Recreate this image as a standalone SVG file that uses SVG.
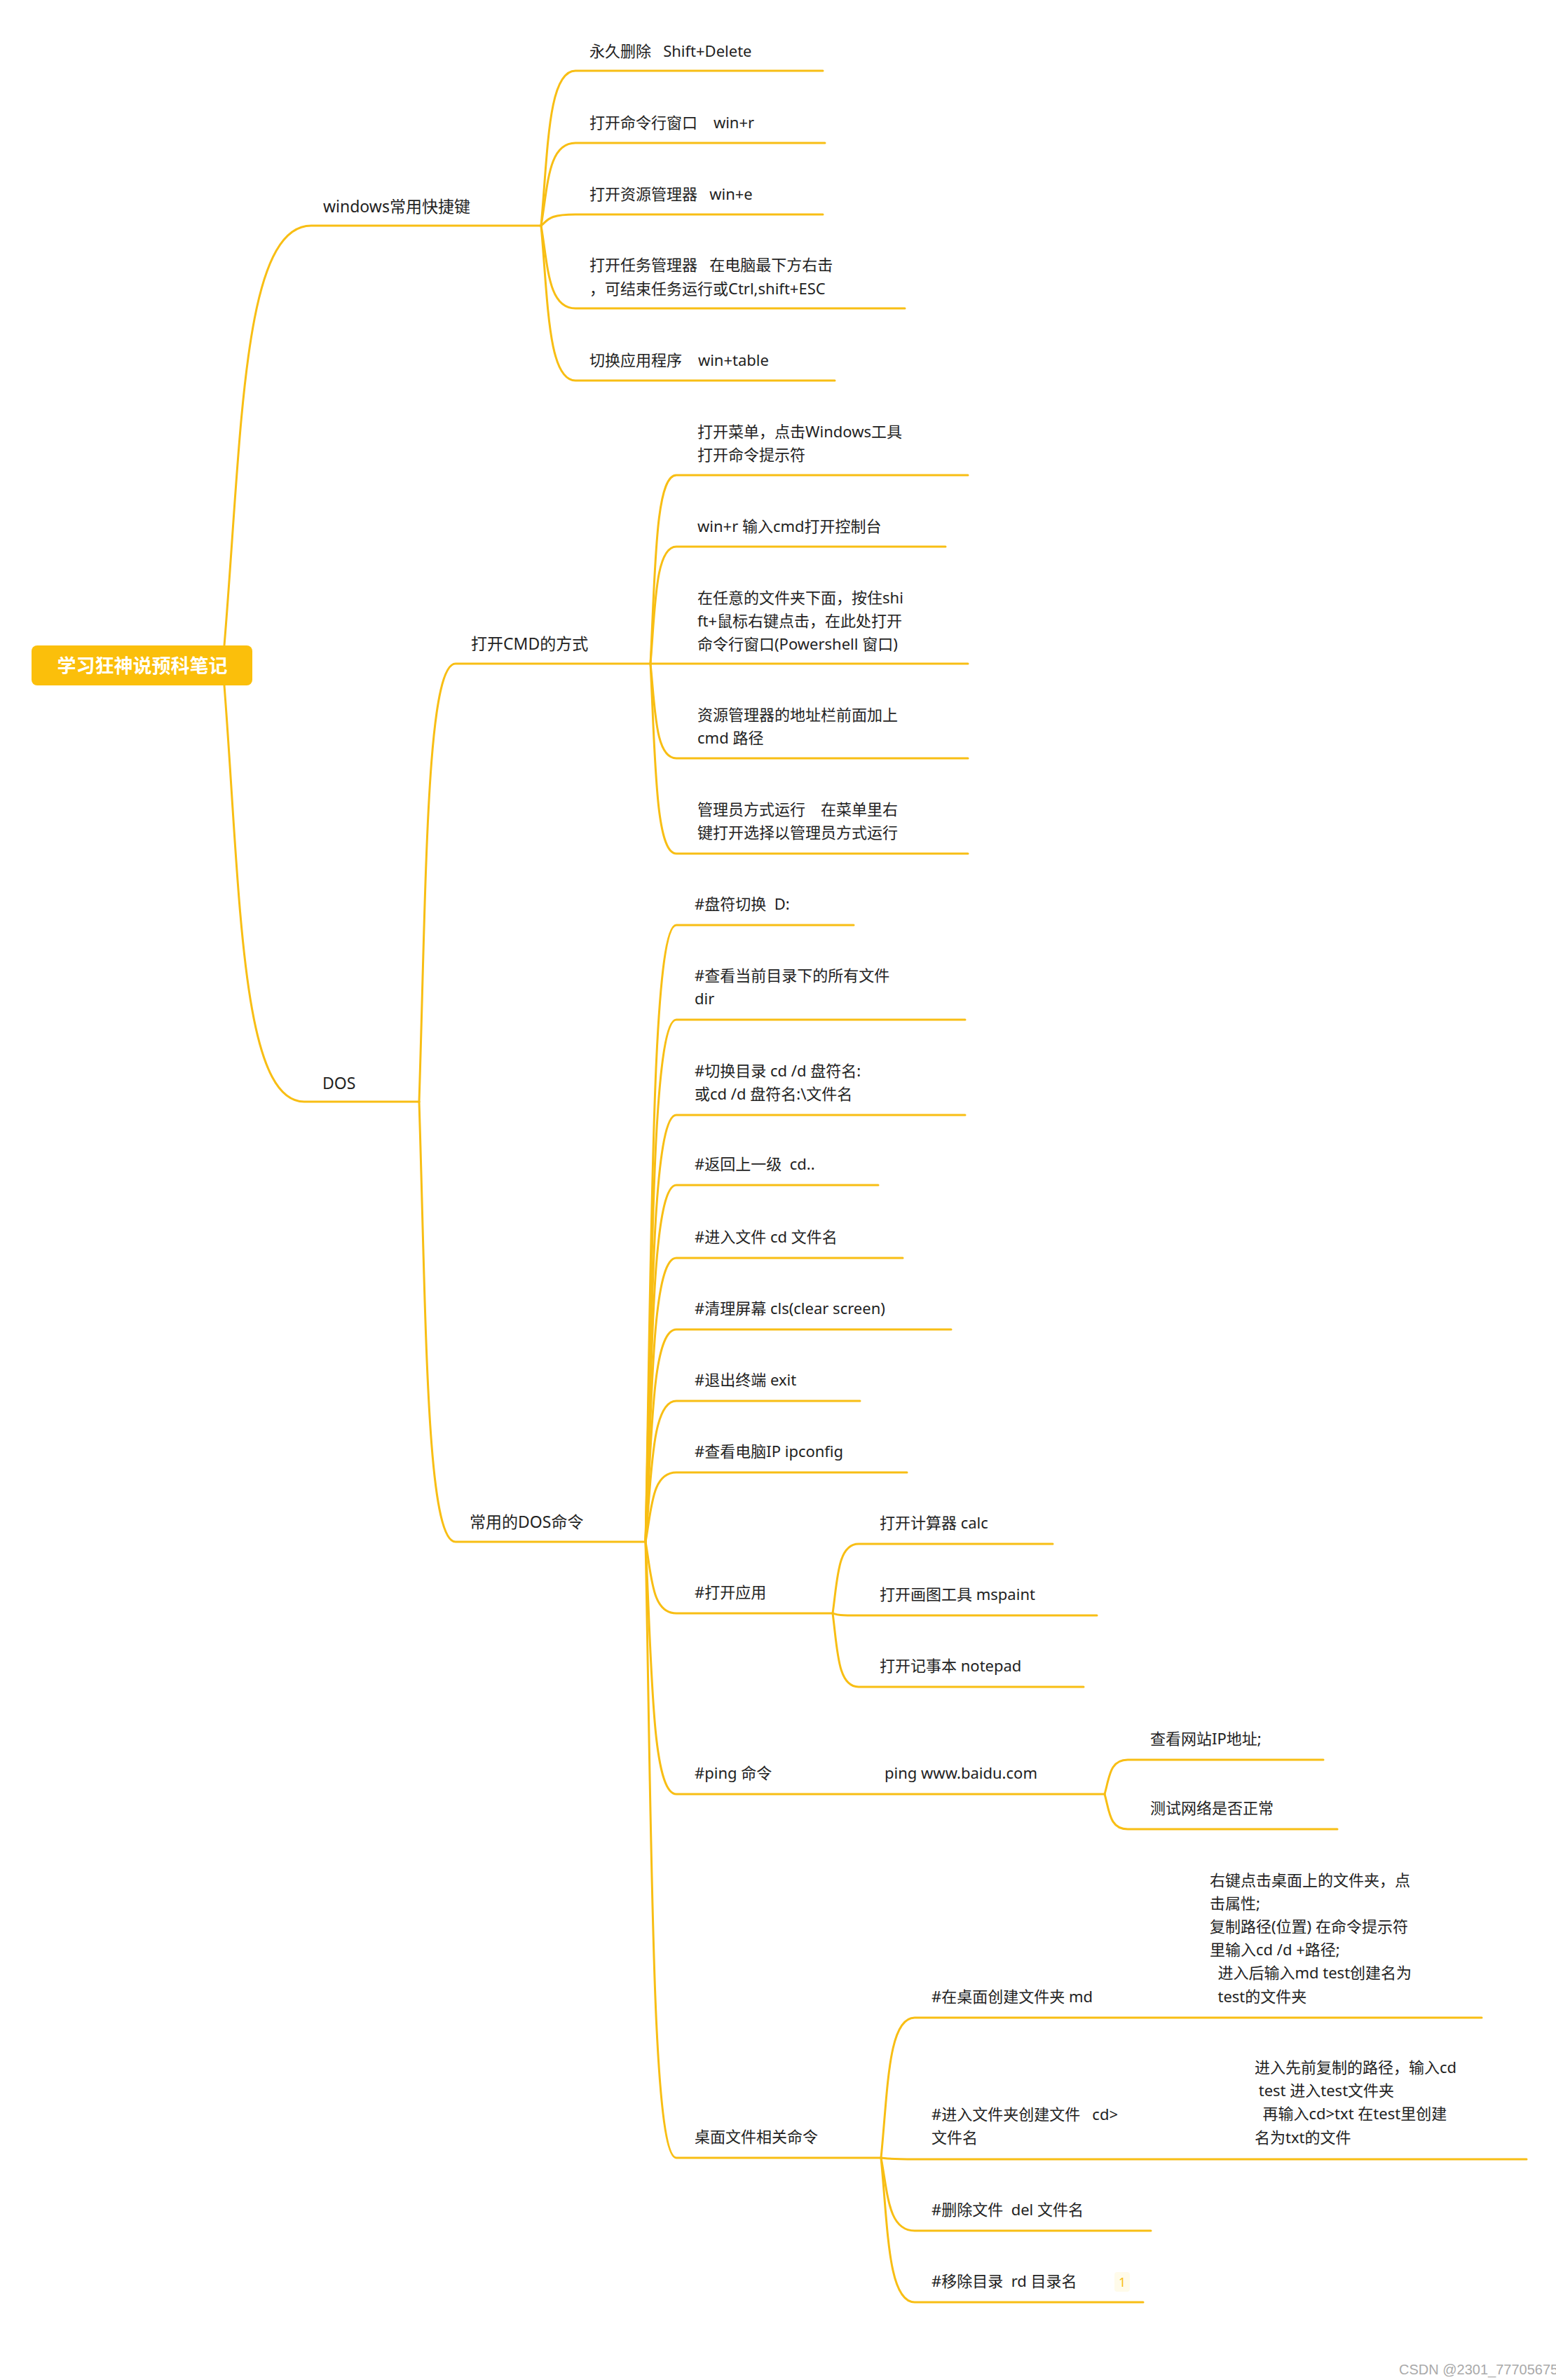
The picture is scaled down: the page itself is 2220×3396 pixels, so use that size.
<svg xmlns="http://www.w3.org/2000/svg" width="2220" height="3396" viewBox="0 0 2220 3396">
<style>
text{font-family:"Noto Sans","Noto Sans CJK SC",sans-serif;font-size:22px;fill:#222;white-space:pre}
.l1{font-size:23px}
.c{fill:none;stroke:#F8BE14;stroke-width:3;stroke-linecap:round}
.root{font-size:27px;font-weight:bold;fill:#fff}
</style>
<rect width="2220" height="3396" fill="#fff"/>
<g id="connectors">
<path class="c" d="M320 921 C345 621 345 322 444 322 H772"/>
<path class="c" d="M320 978 C343 1275 343 1572 434 1572 H598"/>
<path class="c" d="M772 322 C782 212 782 101 821 101 H1174"/>
<path class="c" d="M772 322 C782 263 782 204 821 204 H1177"/>
<path class="c" d="M772 322 C782 314 782 306 821 306 H1174"/>
<path class="c" d="M772 322 C782 381 782 440 821 440 H1291"/>
<path class="c" d="M772 322 C782 433 782 543 821 543 H1191"/>
<path class="c" d="M598 1572 C608 1260 608 947 650 947 H928"/>
<path class="c" d="M598 1572 C608 1886 608 2200 650 2200 H921"/>
<path class="c" d="M928 947 C935 812 935 678 965 678 H1381"/>
<path class="c" d="M928 947 C935 864 935 780 965 780 H1349"/>
<path class="c" d="M928 947 H1381"/>
<path class="c" d="M928 947 C935 1014 935 1082 965 1082 H1381"/>
<path class="c" d="M928 947 C935 1082 935 1218 965 1218 H1381"/>
<path class="c" d="M921 2200 C930 1760 930 1320 965 1320 H1218"/>
<path class="c" d="M921 2200 C930 1828 930 1455 965 1455 H1377"/>
<path class="c" d="M921 2200 C930 1896 930 1591 965 1591 H1377"/>
<path class="c" d="M921 2200 C930 1946 930 1691 965 1691 H1253"/>
<path class="c" d="M921 2200 C930 1998 930 1795 965 1795 H1288"/>
<path class="c" d="M921 2200 C930 2049 930 1897 965 1897 H1357"/>
<path class="c" d="M921 2200 C930 2100 930 1999 965 1999 H1227"/>
<path class="c" d="M921 2200 C930 2151 930 2101 965 2101 H1294"/>
<path class="c" d="M921 2200 C930 2251 930 2302 965 2302 H1188"/>
<path class="c" d="M921 2200 C930 2380 930 2560 965 2560 H1576"/>
<path class="c" d="M921 2200 C930 2640 930 3079 965 3079 H1257"/>
<path class="c" d="M1188 2302 C1195 2253 1195 2203 1225 2203 H1502"/>
<path class="c" d="M1188 2302 C1195 2304 1195 2305 1225 2305 H1565"/>
<path class="c" d="M1188 2302 C1195 2355 1195 2407 1225 2407 H1546"/>
<path class="c" d="M1576 2560 C1583 2536 1583 2511 1609 2511 H1888"/>
<path class="c" d="M1576 2560 C1583 2585 1583 2610 1609 2610 H1908"/>
<path class="c" d="M1257 3079 C1267 2979 1267 2879 1305 2879 H2114"/>
<path class="c" d="M1257 3079 C1267 3080 1267 3081 1305 3081 H2178"/>
<path class="c" d="M1257 3079 C1267 3131 1267 3183 1305 3183 H1642"/>
<path class="c" d="M1257 3079 C1267 3182 1267 3285 1305 3285 H1631"/>
</g>
<g id="root"><rect x="45" y="921" width="315" height="57" rx="8" fill="#FBBF0B"/><text class="root" x="203" y="960" text-anchor="middle">学习狂神说预科笔记</text></g>
<g id="n-win"><text class="l1" x="461" y="303">windows常用快捷键</text></g>
<g id="n-w1"><text x="841" y="81">永久删除   Shift+Delete</text></g>
<g id="n-w2"><text x="841" y="183">打开命令行窗口    win+r</text></g>
<g id="n-w3"><text x="841" y="285">打开资源管理器   win+e</text></g>
<g id="n-w4"><text x="841" y="386">打开任务管理器   在电脑最下方右击</text><text x="841" y="420">，可结束任务运行或Ctrl,shift+ESC</text></g>
<g id="n-w5"><text x="841" y="522">切换应用程序    win+table</text></g>
<g id="n-dos"><text class="l1" x="460" y="1554">DOS</text></g>
<g id="n-cmd"><text class="l1" x="672" y="927">打开CMD的方式</text></g>
<g id="n-c1"><text x="995" y="624">打开菜单，点击Windows工具</text><text x="995" y="657">打开命令提示符</text></g>
<g id="n-c2"><text x="995" y="759">win+r 输入cmd打开控制台</text></g>
<g id="n-c3"><text x="995" y="861">在任意的文件夹下面，按住shi</text><text x="995" y="894">ft+鼠标右键点击，在此处打开</text><text x="995" y="927">命令行窗口(Powershell 窗口)</text></g>
<g id="n-c4"><text x="995" y="1028">资源管理器的地址栏前面加上</text><text x="995" y="1061">cmd 路径</text></g>
<g id="n-c5"><text x="995" y="1163">管理员方式运行　在菜单里右</text><text x="995" y="1196">键打开选择以管理员方式运行</text></g>
<g id="n-cy"><text class="l1" x="670" y="2180">常用的DOS命令</text></g>
<g id="n-d1"><text x="991" y="1298">#盘符切换  D:</text></g>
<g id="n-d2"><text x="991" y="1400">#查看当前目录下的所有文件</text><text x="991" y="1433">dir</text></g>
<g id="n-d3"><text x="991" y="1536">#切换目录 cd /d 盘符名:</text><text x="991" y="1569">或cd /d 盘符名:\文件名</text></g>
<g id="n-d4"><text x="991" y="1669">#返回上一级  cd..</text></g>
<g id="n-d5"><text x="991" y="1773">#进入文件 cd 文件名</text></g>
<g id="n-d6"><text x="991" y="1875">#清理屏幕 cls(clear screen)</text></g>
<g id="n-d7"><text x="991" y="1977">#退出终端 exit</text></g>
<g id="n-d8"><text x="991" y="2079">#查看电脑IP ipconfig</text></g>
<g id="n-d9"><text x="991" y="2280">#打开应用</text></g>
<g id="n-a1"><text x="1255" y="2181">打开计算器 calc</text></g>
<g id="n-a2"><text x="1255" y="2283">打开画图工具 mspaint</text></g>
<g id="n-a3"><text x="1255" y="2385">打开记事本 notepad</text></g>
<g id="n-d10"><text x="991" y="2538">#ping 命令</text><text x="1262" y="2538">ping www.baidu.com</text></g>
<g id="n-p1"><text x="1641" y="2489">查看网站IP地址;</text></g>
<g id="n-p2"><text x="1641" y="2588">测试网络是否正常</text></g>
<g id="n-d11"><text x="991" y="3057">桌面文件相关命令</text></g>
<g id="n-z1"><text x="1329" y="2857">#在桌面创建文件夹 md</text></g>
<g id="n-z1d"><text x="1726" y="2691">右键点击桌面上的文件夹，点</text><text x="1726" y="2724">击属性;</text><text x="1726" y="2757">复制路径(位置) 在命令提示符</text><text x="1726" y="2790">里输入cd /d +路径;</text><text x="1726" y="2823">  进入后输入md test创建名为</text><text x="1726" y="2857">  test的文件夹</text></g>
<g id="n-z2"><text x="1329" y="3025">#进入文件夹创建文件   cd&gt;</text><text x="1329" y="3058">文件名</text></g>
<g id="n-z2d"><text x="1790" y="2958">进入先前复制的路径，输入cd</text><text x="1790" y="2991"> test 进入test文件夹</text><text x="1790" y="3024">  再输入cd&gt;txt 在test里创建</text><text x="1790" y="3058">名为txt的文件</text></g>
<g id="n-z3"><text x="1329" y="3161">#删除文件  del 文件名</text></g>
<g id="n-z4"><text x="1329" y="3263">#移除目录  rd 目录名</text><rect x="1590" y="3242" width="22" height="28" rx="4" fill="#FFFBEA"/><text x="1596" y="3263" style="font-size:18px;fill:#F8BE14">1</text></g>
<text x="1996" y="3388" style="font-size:20px;fill:#aaa;font-family:'Liberation Sans',sans-serif">CSDN @2301_77705675</text>
</svg>
